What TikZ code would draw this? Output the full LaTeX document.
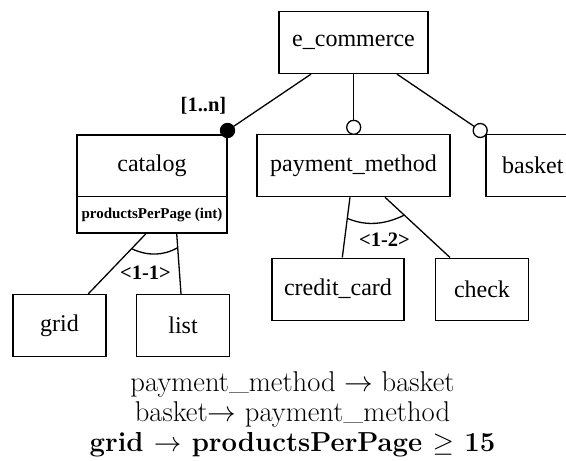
\RequirePackage{fix-cm}
\documentclass[tikz,border=0pt]{standalone}
\usepackage{fontspec}
\newfontfamily\tfont{Liberation Serif}
\usetikzlibrary{calc}
\newcommand{\usc}{\smash{\raisebox{2.5pt}{\_}}}
\begin{document}
\begin{tikzpicture}[x=1pt,y=-1pt,
  feat/.style={draw, line width=1.3pt, rectangle, inner sep=0pt,
    font=\tfont\fontsize{24}{28}\selectfont, minimum height=62pt},
  conn/.style={line width=1.3pt},
  lbl/.style={font=\tfont\bfseries\fontsize{20.5}{24}\selectfont, inner sep=0pt},
  mand/.style={circle, fill=black, draw, line width=1.3pt, minimum size=14pt, inner sep=0pt},
  opt/.style={circle, fill=white, draw, line width=1.3pt, minimum size=14pt, inner sep=0pt},
  cons/.style={font=\fontsize{28.6}{32}\selectfont, inner sep=0pt, anchor=base},
  boldcons/.style={cons, font=\fontsize{27.5}{32}\selectfont\bfseries}]
\clip (0,0) rectangle (566,461);
% feature boxes
\node[feat, minimum width=149pt] (ecom) at (353.5,42.5) {e\_commerce};
\node[feat, minimum width=150pt, minimum height=61.7pt] (catalog) at (152,165.85) {catalog};
\node[draw, line width=1.3pt, minimum width=150pt, minimum height=36.3pt, inner sep=0pt,
  font=\tfont\bfseries\fontsize{15}{18}\selectfont] (attr) at (152,214.85) {productsPerPage (int)};
\node[feat, minimum width=193pt] (pay) at (353.5,165.6) {payment\_method};
\node[feat, minimum width=93.6pt] (basket) at (532.8,165.6) {basket};
\node[feat, minimum width=93pt] (grid) at (59.5,325.5) {grid};
\node[feat, minimum width=92.6pt] (list) at (183,325.5) {list};
\node[feat, minimum width=132pt] (credit) at (338,289.15) {credit\_card};
\node[feat, minimum width=92.6pt] (check) at (482,289.15) {check};
% circle positions
\coordinate (m1c) at (227.5,130.5);
\coordinate (o1c) at (353.7,127.3);
\coordinate (o2c) at (480.2,130.5);
% connectors from root
\draw[conn] ($(ecom.south)+(-42.5,0)$) -- (m1c);
\draw[conn] (o1c |- ecom.south) -- (o1c);
\draw[conn] ($(ecom.south)+(43.5,0)$) -- (o2c);
\node[mand] (m1) at (m1c) {};
\node[opt] (o1) at (o1c) {};
\node[opt] (o2) at (o2c) {};
% catalog group
\coordinate (ga) at ($(attr.south)+(-6,0)$);
\coordinate (gb) at ($(grid.north)+(28.8,0)$);
\coordinate (la) at ($(attr.south)+(24.7,0)$);
\coordinate (lb) at ($(list.north)+(-2,0)$);
\draw[conn] (ga) -- (gb);
\draw[conn] (la) -- (lb);
\draw[conn] ($(ga)!0.25!(gb)$) .. controls (147.8,256.2) and (163.0,255.9) .. ($(la)!0.233!(lb)$);
% payment group
\coordinate (ca) at ($(pay.south)+(-3.5,0)$);
\coordinate (cb) at ($(credit.north)+(4.3,0)$);
\coordinate (ka) at ($(pay.south)+(31.5,0)$);
\coordinate (kb) at ($(check.north)+(-32,0)$);
\draw[conn] (ca) -- (cb);
\draw[conn] (ka) -- (kb);
\draw[conn] ($(ca)!0.35!(cb)$) .. controls (365.4,226.1) and (384.1,225) .. ($(ka)!0.297!(kb)$);
% labels
\node[lbl, anchor=east] (card) at (226.5,105.5) {[1..n]};
\node[lbl] (g1) at (145.5,272.5) {\textless1-1\textgreater};
\node[lbl] (g2) at (384.5,240) {\textless1-2\textgreater};
% constraints
\node[cons] (c1) at (292.5,391.7) {payment\usc method $\rightarrow$ basket};
\node[cons] (c2) at (292.5,421.7) {basket$\rightarrow$ payment\usc method};
\node[boldcons] (c3) at (292.5,451.7) {grid $\rightarrow$ productsPerPage $\geq$ 15};
\end{tikzpicture}
\end{document}
